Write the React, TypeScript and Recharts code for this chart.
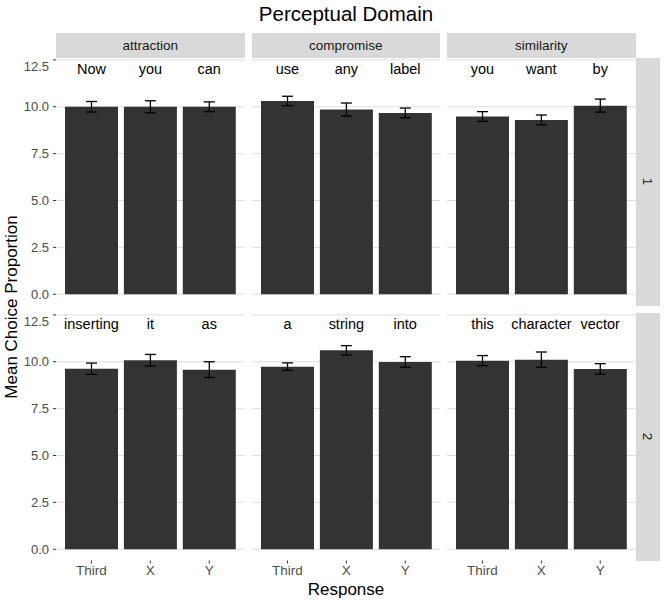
import React from 'react';
import {
  ComposedChart,
  Bar,
  Line,
  XAxis,
  YAxis,
  CartesianGrid,
  ErrorBar,
  LabelList,
} from 'recharts';

// facets
const domains = ['attraction', 'compromise', 'similarity'];
const rowNames = ['1', '2'];
const responses = ['Third', 'X', 'Y'];

// values per row, ordered attraction(Third,X,Y), compromise(...), similarity(...)
const row1Words = ['Now', 'you', 'can', 'use', 'any', 'label', 'you', 'want', 'by'];
const row1Means = [10.0, 10.0, 10.0, 10.31, 9.85, 9.67, 9.48, 9.3, 10.06];
const row1Errors = [0.28, 0.32, 0.26, 0.25, 0.35, 0.26, 0.26, 0.26, 0.35];

const row2Words = ['inserting', 'it', 'as', 'a', 'string', 'into', 'this', 'character', 'vector'];
const row2Means = [9.63, 10.08, 9.58, 9.74, 10.61, 9.99, 10.06, 10.11, 9.62];
const row2Errors = [0.3, 0.31, 0.42, 0.2, 0.25, 0.28, 0.27, 0.41, 0.28];

const wordY = 12;
const yTicks = [0, 2.5, 5, 7.5, 10, 12.5];

const rowWords = [row1Words, row2Words];
const rowMeans = [row1Means, row2Means];
const rowErrors = [row1Errors, row2Errors];

// layout
const FONT = '"Liberation Sans", Arial, sans-serif';
const PANEL_W = 188.7;
const PANEL_H = 247.5;
const panelLeft = [56, 251.5, 447];
const panelTop = [58.2, 313];
const Y_AXIS_W = 56;
const X_AXIS_H = 30;

function panelData(r: number, c: number) {
  return responses.map((resp, i) => ({
    response: resp,
    mean: rowMeans[r][c * 3 + i],
    err: rowErrors[r][c * 3 + i],
    word: rowWords[r][c * 3 + i],
    wordY,
  }));
}

function Panel({ r, c }: { r: number; c: number }) {
  const showY = c === 0;
  const showX = r === 1;
  const w = PANEL_W + (showY ? Y_AXIS_W : 0);
  const h = PANEL_H + (showX ? X_AXIS_H : 0);
  return (
    <div
      style={{
        position: 'absolute',
        left: panelLeft[c] - (showY ? Y_AXIS_W : 0),
        top: panelTop[r],
        width: w,
        height: h,
      }}
    >
      <ComposedChart
        width={w}
        height={h}
        data={panelData(r, c)}
        margin={{ top: 0, right: 0, bottom: 0, left: 0 }}
      >
        <CartesianGrid vertical={false} stroke="#DEDEDE" horizontalValues={yTicks} />
        <XAxis
          dataKey="response"
          hide={!showX}
          height={X_AXIS_H}
          padding={{ left: 6, right: 6 }}
          interval={0}
          axisLine={false}
          tickSize={3}
          tickMargin={2}
          tickLine={{ stroke: '#333333' }}
          tick={{ fill: '#4D4D4D', fontSize: 13.5, fontFamily: FONT }}
        />
        <YAxis
          type="number"
          domain={[-0.6, 12.6]}
          allowDataOverflow
          ticks={yTicks}
          hide={!showY}
          width={Y_AXIS_W}
          axisLine={false}
          tickSize={3}
          tickMargin={4}
          tickLine={{ stroke: '#333333' }}
          tick={{ fill: '#4D4D4D', fontSize: 13, fontFamily: FONT }}
          tickFormatter={(v: number) => v.toFixed(1)}
        />
        <Bar dataKey="mean" fill="#333333" barSize={53} isAnimationActive={false}>
          <ErrorBar dataKey="err" direction="y" width={5.5} stroke="#000000" strokeWidth={1.3} />
        </Bar>
        <Line
          dataKey="wordY"
          stroke="none"
          dot={false}
          activeDot={false}
          isAnimationActive={false}
        >
          <LabelList
            dataKey="word"
            position="center"
            fill="#000000"
            fontSize={14.5}
            fontFamily={FONT}
          />
        </Line>
      </ComposedChart>
    </div>
  );
}

export default function App() {
  return (
    <div
      style={{
        position: 'absolute',
        left: 0,
        top: 0,
        width: 671,
        height: 606,
        background: '#ffffff',
        fontFamily: FONT,
      }}
    >
      {/* title */}
      <div
        style={{
          position: 'absolute',
          left: 56,
          width: 580,
          top: 2,
          textAlign: 'center',
          fontSize: 20.5,
          color: '#000000',
        }}
      >
        Perceptual Domain
      </div>

      {/* column strips */}
      {domains.map((d, c) => (
        <div
          key={d}
          style={{
            position: 'absolute',
            left: panelLeft[c],
            top: 33,
            width: PANEL_W,
            height: 25.2,
            background: '#D9D9D9',
            color: '#1A1A1A',
            fontSize: 13.5,
            lineHeight: '25.2px',
            textAlign: 'center',
          }}
        >
          {d}
        </div>
      ))}

      {/* row strips */}
      {rowNames.map((n, r) => (
        <div
          key={n}
          style={{
            position: 'absolute',
            left: 636,
            top: panelTop[r],
            width: 23.5,
            height: PANEL_H,
            background: '#D9D9D9',
            color: '#1A1A1A',
            fontSize: 13.5,
            display: 'flex',
            alignItems: 'center',
            justifyContent: 'center',
          }}
        >
          <span style={{ transform: 'rotate(90deg)', display: 'inline-block' }}>{n}</span>
        </div>
      ))}

      {rowNames.map((n, r) =>
        domains.map((d, c) => <Panel key={n + d} r={r} c={c} />)
      )}

      {/* axis titles */}
      <div
        style={{
          position: 'absolute',
          left: 12 - 150,
          top: 307 - 10,
          width: 300,
          height: 20,
          lineHeight: '20px',
          textAlign: 'center',
          fontSize: 17,
          color: '#000000',
          transform: 'rotate(-90deg)',
        }}
      >
        Mean Choice Proportion
      </div>
      <div
        style={{
          position: 'absolute',
          left: 56,
          width: 580,
          top: 580,
          lineHeight: '20px',
          textAlign: 'center',
          fontSize: 17,
          color: '#000000',
        }}
      >
        Response
      </div>
    </div>
  );
}
